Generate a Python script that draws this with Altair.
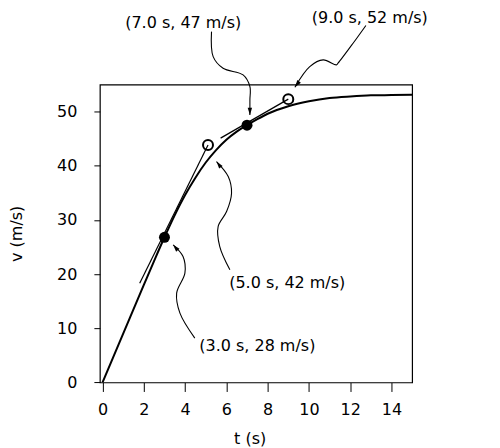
import altair as alt
import pandas as pd

# velocity curve
t_curve = [0, 1, 2, 2.5, 3, 3.5, 4, 4.5, 5, 5.5, 6, 6.5, 7, 7.5, 8, 9, 10, 11, 12, 13, 14, 15]
v_curve = [0, 9.0, 18.0, 22.45, 26.8, 30.9, 34.6, 37.8, 40.6, 42.9, 44.8, 46.3, 47.5, 48.6,
           49.6, 51.0, 51.9, 52.5, 52.8, 53.0, 53.05, 53.1]

# marked points
fill_t = [3.0, 7.0]
fill_v = [26.8, 47.5]
open_t = [5.11, 9.0]
open_v = [43.85, 52.3]

# tangent segments
tan_t0 = [1.8, 5.72]
tan_v0 = [18.3, 45.1]
tan_t1 = [5.11, 9.0]
tan_v1 = [43.85, 52.3]

# annotations
labels = ["(3.0 s, 28 m/s)", "(5.0 s, 42 m/s)", "(7.0 s, 47 m/s)", "(9.0 s, 52 m/s)"]
label_t = [7.50, 8.95, 3.91, 12.95]
label_v = [6.77, 18.34, 66.37, 67.3]

arrow_t = [
    [4.47, 3.75, 3.59, 3.99, 3.90, 3.42],
    [6.17, 5.68, 5.60, 6.01, 6.25, 6.09, 5.52],
    [5.28, 5.36, 5.84, 6.81, 7.14, 7.14, 7.14],
    [12.76, 12.14, 11.41, 11.33, 10.69, 10.04, 9.32],
]
arrow_v = [
    [8.19, 12.80, 16.49, 20.18, 23.25, 25.41],
    [20.79, 25.09, 28.78, 31.55, 34.94, 38.01, 40.77],
    [64.76, 60.15, 58.0, 56.77, 54.61, 52.16, 49.39],
    [65.9, 62.62, 58.93, 58.62, 59.54, 58.30, 54.50],
]
head_angle = [319.5, 322, 180, 216]

FONT = "DejaVu Sans"

curve_df = pd.DataFrame({"t": t_curve, "v": v_curve})
fill_df = pd.DataFrame({"t": fill_t, "v": fill_v})
open_df = pd.DataFrame({"t": open_t, "v": open_v})
tan_df = pd.DataFrame({"t": tan_t0, "v": tan_v0, "t2": tan_t1, "v2": tan_v1})
lab_df = pd.DataFrame({"t": label_t, "v": label_v, "label": labels})
rows = []
for k, (ts, vs) in enumerate(zip(arrow_t, arrow_v)):
    for i, (a, b) in enumerate(zip(ts, vs)):
        rows.append({"arrow": k, "i": i, "t": a, "v": b})
arr_df = pd.DataFrame(rows)
head_df = pd.DataFrame({
    "t": [ts[-1] for ts in arrow_t],
    "v": [vs[-1] for vs in arrow_v],
    "angle": head_angle,
})

xs = alt.Scale(domain=[-0.13, 15], nice=False, zero=False)
ys = alt.Scale(domain=[0, 55], nice=False)

X = alt.X("t:Q", scale=xs, axis=alt.Axis(
    title="t (s)", values=list(range(0, 15, 2)), grid=False, domain=False,
    tickSize=9, tickColor="black", labelFont=FONT, labelFontSize=16, labelColor="black",
    labelPadding=10, titleFont=FONT, titleFontSize=16, titleFontWeight="normal",
    titleColor="black", titleX=150, titleY=56, titleAlign="center", titleBaseline="middle"))
Y = alt.Y("v:Q", scale=ys, axis=alt.Axis(
    title="v (m/s)", values=list(range(0, 55, 10)), grid=False, domain=False,
    tickSize=6, tickColor="black", labelFont=FONT, labelFontSize=16, labelColor="black",
    labelPadding=17, titleFont=FONT, titleFontSize=16, titleFontWeight="normal",
    titleColor="black", titleX=-83, titleY=149, titleAlign="center", titleBaseline="middle"))

curve = alt.Chart(curve_df).mark_line(color="black", strokeWidth=2, interpolate="monotone").encode(x=X, y=Y)
tangents = alt.Chart(tan_df).mark_rule(color="black", strokeWidth=1.2).encode(
    x="t:Q", y="v:Q", x2="t2:Q", y2="v2:Q")
opens = alt.Chart(open_df).mark_point(shape="circle", filled=False, color="black",
                                      strokeWidth=2, size=100, opacity=1).encode(x="t:Q", y="v:Q")
fills = alt.Chart(fill_df).mark_point(shape="circle", filled=True, color="black",
                                      size=121, opacity=1).encode(x="t:Q", y="v:Q")
arrows = alt.Chart(arr_df).mark_line(color="black", strokeWidth=1.1, interpolate="catmull-rom").encode(
    x="t:Q", y="v:Q", detail="arrow:N", order="i:Q")
heads = alt.Chart(head_df).mark_point(
    shape="M0,0 L0.55,1.8 L-0.55,1.8 Z", filled=True, color="black", size=64, opacity=1
).encode(x="t:Q", y="v:Q", angle=alt.Angle("angle:Q", scale=None))
texts = alt.Chart(lab_df).mark_text(font=FONT, fontSize=16, color="black",
                                    align="center", baseline="middle").encode(
    x="t:Q", y="v:Q", text="label:N")

chart = alt.layer(curve, tangents, opens, fills, arrows, heads, texts).properties(
    width=312.7, height=298.4,
    autosize=alt.AutoSizeParams(type="none"),
    padding={"left": 92, "top": 76.3, "right": 80, "bottom": 70},
).configure(background="white").configure_view(stroke="black", strokeWidth=1.2)

chart.save("out.html", embed_options={"renderer": "svg", "actions": False})
